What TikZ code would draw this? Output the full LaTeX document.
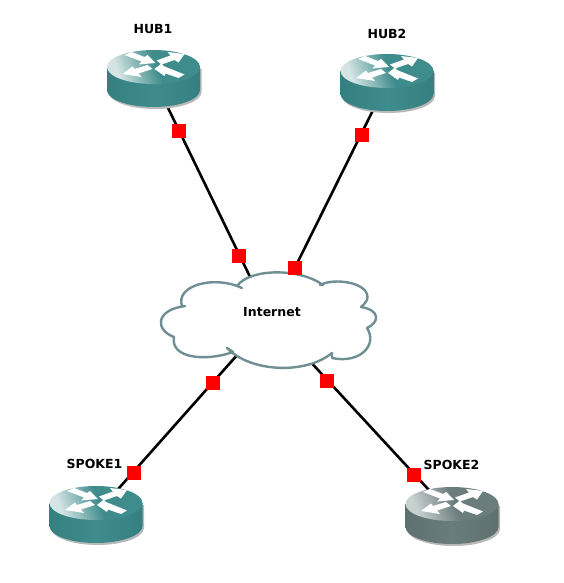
\documentclass[tikz,border=0pt]{standalone}
\usepackage{fontspec}
\newfontfamily\labelfont{DejaVu Sans}
\usetikzlibrary{backgrounds}
\definecolor{teallight}{HTML}{D5E4E4}
\definecolor{tealmid}{HTML}{3F8C8C}
\definecolor{tealdark}{HTML}{357F80}
\definecolor{graylight}{HTML}{C8D0D0}
\definecolor{graymid}{HTML}{6B7C7C}
\definecolor{graydark}{HTML}{5F7070}
\definecolor{cloudedge}{HTML}{6F8F92}
\pgfdeclarehorizontalshading{topteal}{100bp}{color(0bp)=(teallight); color(27bp)=(teallight); color(52bp)=(tealmid); color(100bp)=(tealmid)}
\pgfdeclarehorizontalshading{topgray}{100bp}{color(0bp)=(graylight); color(27bp)=(graylight); color(52bp)=(graymid); color(100bp)=(graymid)}
\tikzset{
  link/.style={draw=black, line width=2.6pt},
  port/.style={draw=none, fill=red, minimum size=14pt, inner sep=0pt, outer sep=0pt},
  label/.style={font=\labelfont\bfseries\fontsize{12.5}{14}\selectfont, inner sep=0pt},
  cloudline/.style={draw=cloudedge, line width=2.4pt, fill=white, line join=round},
  turn/.style={fill=white, draw=none},
}
% one router icon: name, x, y, top shading, mid, dark
\newcommand{\router}[6]{
  \begin{scope}[shift={(#2,#3)}]
    \coordinate (#1) at (0,0);
    \fill[gray!55] (-45,-9) -- (-45,14) arc[start angle=180, end angle=0, x radius=46.5, y radius=17] -- (48,-9) -- cycle;
    \shade[left color=#6, right color=#6, middle color=#5]
      (-46.5,-11) -- (-46.5,12) arc[start angle=180, end angle=0, x radius=46.5, y radius=17] -- (46.5,-11) -- cycle;
    \shade[shading=#4, shading angle=20]
      (0,-11) ellipse [x radius=46.5, y radius=17];
    \fill[turn] (-29,-23) -- (-22,-26) -- (-9,-21) -- (-6,-23) -- (2,-15) -- (-15,-13.5) -- (-12,-16.5) -- cycle;
    \fill[turn] (31,-24) -- (14,-26) -- (17,-22.5) -- (3,-17.5) -- (8,-13.5) -- (21,-18) -- (25,-15.5) -- cycle;
    \fill[turn] (-31,-4) -- (-21,-11.5) -- (-19,-9) -- (-6,-13) -- (-1,-9) -- (-15,-4.5) -- (-12,-1) -- cycle;
    \fill[turn] (1,-9) -- (8,-14.5) -- (10,-12) -- (31,-3.5) -- (25,0) -- (12,-4.5) -- (11,-2) -- cycle;
  \end{scope}
}
\begin{document}
\begin{tikzpicture}[x=1pt, y=-1pt]
  \useasboundingbox (0,0) rectangle (563,583);
  % routers
  \router{hub1}{153.5}{78}{topteal}{tealmid}{tealdark}
  \router{hub2}{387}{82}{topteal}{tealmid}{tealdark}
  \router{spoke1}{96}{514}{topteal}{tealmid}{tealdark}
  \router{spoke2}{452}{515}{topgray}{graymid}{graydark}

  % cloud
  \coordinate (cloud) at (270,318);
  \path[cloudline] (237,286) .. controls (250,268) and (300,268) .. (323,285)
    -- (320,285) .. controls (335,277) and (372,283) .. (367,300)
    .. controls (366,303) and (363,305) .. (361,307)
    .. controls (380,310) and (380,322) .. (367,328)
    .. controls (378,345) and (360,364) .. (332,358)
    -- (332,353) .. controls (305,375) and (250,372) .. (227,348)
    -- (233,352) .. controls (205,362) and (170,358) .. (174,337)
    .. controls (155,330) and (155,310) .. (185,306)
    -- (182,306) .. controls (175,285) and (215,275) .. (242,288) -- cycle;
  \node[label] (internet) at (272,312) {Internet};

  % names
  \node[label] (hub1name) at (153,29) {HUB1};
  \node[label] (hub2name) at (387,34) {HUB2};
  \node[label] (spoke1name) at (94.5,464) {SPOKE1};
  \node[label] (spoke2name) at (451.5,465) {SPOKE2};

  % ports
  \node[port] (hub1a) at (179,131) {};
  \node[port] (hub1b) at (239,256) {};
  \node[port] (hub2a) at (362,135) {};
  \node[port] (hub2b) at (295,268) {};
  \node[port] (spoke1a) at (134,473) {};
  \node[port] (spoke1b) at (213,383) {};
  \node[port] (spoke2a) at (414,475) {};
  \node[port] (spoke2b) at (327,381) {};

  % links
  \begin{scope}[on background layer]
    \draw[link] (hub1) -- (cloud);
    \draw[link] (hub2) -- (cloud);
    \draw[link] (spoke1) -- (cloud);
    \draw[link] (spoke2) -- (cloud);
  \end{scope}
\end{tikzpicture}
\end{document}
